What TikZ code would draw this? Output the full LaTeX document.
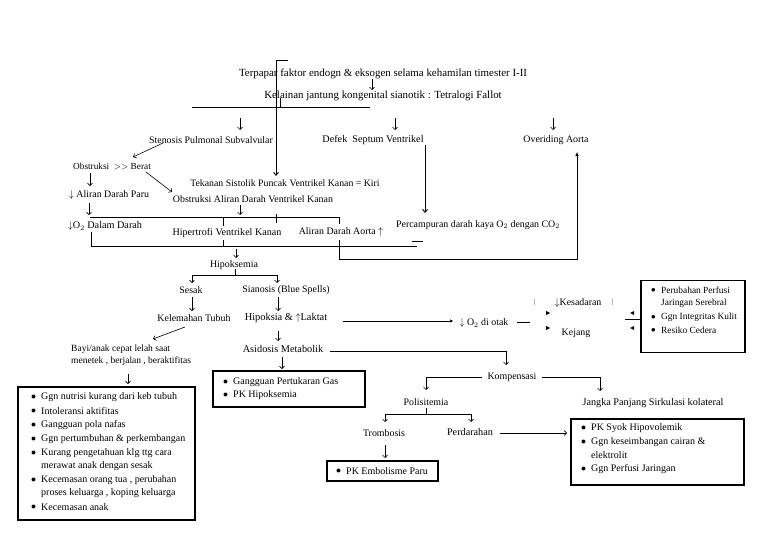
\documentclass[tikz,border=0pt]{standalone}
\usepackage{fontspec}
\setmainfont{Liberation Serif}
\usetikzlibrary{arrows.meta}
\newcommand\bitem[4]{\node[bul] (#1b) at (#2,#3) {$\bullet$};\node[bul] (#1) at (#2+10,#3) {#4};}
\newcommand\citem[4]{\node[bul] (#1) at (#2+10,#3) {#4};}
\newcommand\fsz[1]{\fontsize{#1}{12}\selectfont}
\begin{document}
\begin{tikzpicture}[x=1pt,y=-1pt,
  lbl/.style={inner sep=1pt, font=\fsz{9.9}},
  ln/.style={line width=0.6pt},
  arr/.style={ln, -{Straight Barb[length=2.5pt,width=5pt]}},
  farr/.style={ln, -{Latex[length=4pt,width=3.5pt]}},
  tarr/.style={ln, -{Triangle[length=3pt,width=3pt]}},
  box/.style={draw, line width=1.6pt, inner sep=0pt},
  bul/.style={inner sep=0pt, font=\fsz{10}, anchor=west},
]
\useasboundingbox[fill=white] (0,0) rectangle (768,543);

% text nodes
\node[lbl, font=\fsz{10.9}] (t1) at (383,74) {Terpapar faktor endogn \& eksogen selama kehamilan timester I-II};
\node[lbl, font=\fsz{10.9}] (t2) at (383,96) {Kelainan jantung kongenital sianotik : Tetralogi Fallot};
\node[lbl] (sten) at (211,140) {Stenosis Pulmonal Subvalvular};
\node[lbl, font=\fsz{10.2}] (defek) at (373,140) {Defek\ \ Septum Ventrikel};
\node[lbl] (over) at (556,140) {Overiding Aorta};
\node[lbl, font=\fsz{9.3}] (obs) at (112,167) {Obstruksi\ \ $>>$ Berat};
\node[lbl, font=\fsz{9.8}] (tek) at (285,183) {Tekanan Sistolik Puncak Ventrikel Kanan = Kiri};
\node[lbl] (adp) at (109,195) {$\downarrow$ Aliran Darah Paru};
\node[lbl] (oadvk) at (253,199) {Obstruksi Aliran Darah Ventrikel Kanan};
\node[lbl, font=\fsz{10.2}] (o2dd) at (105,226) {$\downarrow$O$_2$ Dalam Darah};
\node[lbl, font=\fsz{10.1}] (hvk) at (227,233) {Hipertrofi Ventrikel Kanan};
\node[lbl] (ada) at (341,232) {Aliran Darah Aorta $\uparrow$};
\node[lbl] (perc) at (478,225) {Percampuran darah kaya O$_2$ dengan CO$_2$};
\node[lbl] (hipo) at (234,265) {Hipoksemia};
\node[lbl] (sesak) at (191,290) {Sesak};
\node[lbl] (sian) at (286,290) {Sianosis (Blue Spells)};
\node[lbl] (kel) at (194,318) {Kelemahan Tubuh};
\node[lbl, font=\fsz{10.4}] (hipok) at (286,318) {Hipoksia \& $\uparrow$Laktat};
\node[lbl] (o2otak) at (484,323) {$\downarrow$ O$_2$ di otak};
\node[lbl] (kes) at (578,303) {$\downarrow$Kesadaran};
\node[lbl] (kej) at (576,333) {Kejang};
\node[lbl, anchor=west, align=left, font=\fsz{9.5}] (bayi) at (70,355) {Bayi/anak cepat lelah saat\\menetek , berjalan , beraktifitas};
\node[lbl, font=\fsz{10.3}] (asid) at (283,349) {Asidosis Metabolik};
\node[lbl] (komp) at (512,377) {Kompensasi};
\node[lbl] (poli) at (426,402) {Polisitemia};
\node[lbl, font=\fsz{10.2}] (jangka) at (653,403) {Jangka Panjang Sirkulasi kolateral};
\node[lbl] (tromb) at (384,433) {Trombosis};
\node[lbl, font=\fsz{10.2}] (perd) at (470,432) {Perdarahan};

% boxes
\node[box, minimum width=177pt, minimum height=133pt] (boxA) at (106.5,453.5) {};
\node[box, minimum width=152pt, minimum height=36pt] (boxB) at (289,389) {};
\node[box, minimum width=111pt, minimum height=20pt] (boxC) at (382.5,471) {};
\node[box, minimum width=173pt, minimum height=66pt] (boxD) at (657.5,452) {};
\node[box, minimum width=104pt, minimum height=72pt] (boxE) at (693,316.5) {};

% box items
\bitem{a1}{31}{397}{Ggn nutrisi kurang dari keb tubuh}
\bitem{a2}{31}{411}{Intoleransi aktifitas}
\bitem{a3}{31}{425}{Gangguan pola nafas}
\bitem{a4}{31}{439}{Ggn pertumbuhan \& perkembangan}
\bitem{a5}{31}{453}{Kurang pengetahuan klg ttg cara}
\citem{a6}{31}{466}{merawat anak dengan sesak}
\bitem{a7}{31}{480}{Kecemasan orang tua , perubahan}
\citem{a8}{31}{493}{proses keluarga , koping keluarga}
\bitem{a9}{31}{507}{Kecemasan anak}
\bitem{b1}{223}{382}{Gangguan Pertukaran Gas}
\bitem{b2}{223}{395}{PK Hipoksemia}
\bitem{c1}{336}{471}{PK Embolisme Paru}
\bitem{d1}{581}{428}{PK Syok Hipovolemik}
\bitem{d2}{581}{442}{Ggn keseimbangan cairan \&}
\citem{d3}{581}{455}{elektrolit}
\bitem{d4}{581}{469}{Ggn Perfusi Jaringan}
\begin{scope}[bul/.append style={font=\fsz{9.4}}]
\bitem{e1}{651}{290}{Perubahan Perfusi}
\citem{e2}{651}{303}{Jaringan Serebral}
\bitem{e3}{651}{317}{Ggn Integritas Kulit}
\bitem{e4}{651}{330}{Resiko Cedera}
\end{scope}

% top connectors
\draw[ln, line width=0.9pt, -{Straight Barb[length=3pt,width=5pt]}] (288,60) -- (276,60) -- (276,176);
\draw[arr] (372,79) -- (372,90);
\draw[ln] (280,98) -- (280,107);
\draw[ln] (192,107) -- (370,107);
\draw[arr] (240,118) -- (240,130);
\draw[arr] (395,118) -- (395,130);
\draw[arr] (553,118) -- (553,130);
\draw[ln, line width=0.9pt, -{Straight Barb[length=3pt,width=5pt]}] (425,145) -- (425,213);

% left column
\draw[arr] (163,143) -- (133,157);
\draw[arr] (90,173) -- (90,186);
\draw[arr] (146,172) -- (172,192);
\draw[arr] (89,203) -- (89,215);
\draw[arr] (240,205) -- (240,215);
\draw[ln] (90,217) -- (339,217);
\draw[ln] (223,217) -- (223,226);
\draw[ln] (276,214) -- (276,223);
\draw[ln] (339,217) -- (339,224);
\draw[ln] (91,232) -- (91,246) -- (417,246);
\draw[ln] (223,240) -- (223,246);
\draw[ln] (412,241) -- (423,241);
\draw[arr] (236,249) -- (236,258);
\draw[farr] (339,240) -- (339,259) -- (577,259) -- (577,152);

% hipoksemia
\draw[ln] (235,269) -- (235,275);
\draw[ln] (192,275) -- (277,275);
\draw[arr] (192,275) -- (192,283);
\draw[arr] (277,275) -- (277,283);
\draw[arr] (192,297) -- (192,311);
\draw[arr] (278,297) -- (278,311);
\draw[arr] (185,327) -- (153,339);
\draw[arr] (278,331) -- (278,341);
\draw[tarr] (343,321) -- (453,321);

% kesadaran / kejang
\draw[ln] (517,322) -- (530,322);
\draw[gray!60, line width=0.5pt] (534,299) -- (534,305);
\draw[gray!60, line width=0.5pt] (612,299) -- (612,305);
\fill (546,311) -- (550,313) -- (546,315) -- cycle;
\fill (546,326) -- (550,328) -- (546,330) -- cycle;
\fill (634,311) -- (630,313) -- (634,315) -- cycle;
\fill (634,326) -- (630,328) -- (634,330) -- cycle;
\draw[ln] (625,319) -- (641,319);

% lower part
\draw[arr] (128,374) -- (128,384);
\draw[arr] (282,357) -- (282,369);
\draw[arr] (330,351) -- (506,351) -- (506,365);
\draw[arr] (482,377) -- (426,377) -- (426,390);
\draw[arr] (542,377) -- (600,377) -- (600,391);
\draw[ln] (426,408) -- (426,414);
\draw[ln] (385,414) -- (471,414);
\draw[arr] (385,414) -- (385,422);
\draw[arr] (471,414) -- (471,422);
\draw[arr] (385,445) -- (385,458);
\draw[arr] (500,433) -- (567,433);
\end{tikzpicture}
\end{document}
